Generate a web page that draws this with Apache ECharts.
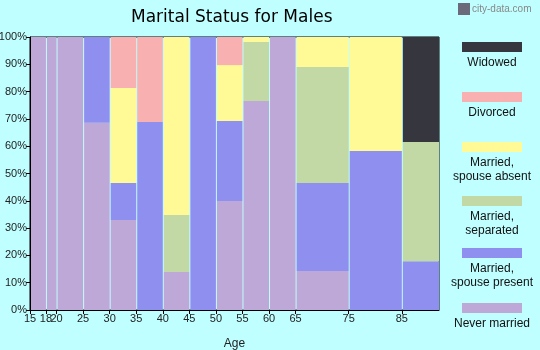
<!DOCTYPE html>
<html><head><meta charset="utf-8">
<script src="https://cdn.jsdelivr.net/npm/echarts@6/dist/echarts.min.js"></script>
<style>html,body{margin:0;padding:0;background:#c0ffff}#c{width:540px;height:350px}</style>
</head><body><div id="c"></div>
<script>
const binEdges = [15, 18, 20, 25, 30, 35, 40, 45, 50, 55, 60, 65, 75, 85, 92];
const tickLabels = [15, 18, 20, 25, 30, 35, 40, 45, 50, 55, 60, 65, 75, 85];
const neverMarried   = [100, 100, 100, 68.6, 33.0, 0, 13.9, 0, 39.9, 76.6, 100, 14.3, 0, 0];
const spousePresent  = [0, 0, 0, 31.4, 13.5, 68.9, 0, 100, 29.3, 0, 0, 32.2, 58.2, 17.9];
const separated      = [0, 0, 0, 0, 0, 0, 20.9, 0, 0, 21.6, 0, 42.5, 0, 43.6];
const spouseAbsent   = [0, 0, 0, 0, 34.8, 0, 65.2, 0, 20.5, 1.8, 0, 11.0, 41.8, 0];
const divorced       = [0, 0, 0, 0, 18.7, 31.1, 0, 0, 10.3, 0, 0, 0, 0, 0];
const widowed        = [0, 0, 0, 0, 0, 0, 0, 0, 0, 0, 0, 0, 0, 38.5];

const seriesDefs = [
  {name: 'Never married', values: neverMarried, color: '#bea8d8', label: ['Never married']},
  {name: 'Married, spouse present', values: spousePresent, color: '#8f8ff0', label: ['Married,', 'spouse present']},
  {name: 'Married, separated', values: separated, color: '#c2d9a5', label: ['Married,', 'separated']},
  {name: 'Married, spouse absent', values: spouseAbsent, color: '#fffa96', label: ['Married,', 'spouse absent']},
  {name: 'Divorced', values: divorced, color: '#f8b0b0', label: ['Divorced']},
  {name: 'Widowed', values: widowed, color: '#35363e', label: ['Widowed']}
];

const cum = binEdges.slice(0, -1).map(() => 0);
const series = seriesDefs.map(s => {
  const data = [];
  s.values.forEach((v, i) => {
    if (v > 0) data.push([binEdges[i], binEdges[i + 1], cum[i], cum[i] + v]);
    cum[i] += v;
  });
  return {
    type: 'custom', name: s.name, itemStyle: {color: s.color},
    encode: {x: [0, 1], y: [2, 3]},
    data: data,
    renderItem: function (params, api) {
      const p0 = api.coord([api.value(0), api.value(2)]);
      const p1 = api.coord([api.value(1), api.value(3)]);
      return {type: 'rect', shape: {x: p0[0] + 1, y: p1[1], width: p1[0] - p0[0] - 1, height: p0[1] - p1[1]},
        style: {fill: api.visual('color')}};
    }
  };
});

// legend (drawn as graphics), top to bottom: reverse order
const legendY = [42, 92, 142, 196, 248, 303];
const graphics = [];
seriesDefs.slice().reverse().forEach((s, k) => {
  const y = legendY[k];
  graphics.push({type: 'rect', left: 462, top: y, shape: {width: 60, height: 10}, style: {fill: s.color}});
  s.label.forEach((t, j) => {
    graphics.push({type: 'text', x: 492, y: y + 15 + j * 14,
      style: {text: t, fill: '#111', font: '12px "Liberation Sans", Arial, sans-serif', textAlign: 'center', textVerticalAlign: 'top'}});
  });
});
graphics.push({type: 'rect', left: 458, top: 3, shape: {width: 12, height: 12}, style: {fill: '#6a6a7a'}});
graphics.push({type: 'text', x: 472, y: 9, style: {text: 'city-data.com', fill: '#888', font: '10px "Liberation Sans", Arial, sans-serif', textVerticalAlign: 'middle'}});

const chart = echarts.init(document.getElementById('c'));
chart.setOption({
  backgroundColor: '#c0ffff',
  animation: false,
  title: {text: 'Marital Status for Males', left: 126, top: 4,
    textStyle: {fontFamily: 'DejaVu Sans', fontSize: 17, fontWeight: 'normal', color: '#000'}},
  grid: {left: 30, top: 37, right: 101, bottom: 40, show: true, borderColor: '#000', borderWidth: 1,
    backgroundColor: 'transparent', containLabel: false, outerBoundsMode: 'none'},
  xAxis: {type: 'value', min: 15, max: 92, name: 'Age', nameLocation: 'middle', nameGap: 28,
    nameTextStyle: {fontFamily: 'Liberation Sans', fontSize: 12, color: '#222'},
    splitLine: {show: false},
    axisLine: {lineStyle: {color: '#000'}},
    axisTick: {customValues: tickLabels, length: 4, lineStyle: {color: '#000'}},
    axisLabel: {customValues: tickLabels, fontFamily: 'Liberation Sans', fontSize: 11, color: '#222', margin: 3}},
  yAxis: {type: 'value', min: 0, max: 100, interval: 10,
    splitLine: {show: false},
    axisLine: {show: true, lineStyle: {color: '#000'}},
    axisTick: {show: true, length: 4, lineStyle: {color: '#000'}},
    axisLabel: {formatter: '{value}%', fontFamily: 'Liberation Sans', fontSize: 11, color: '#222', margin: 3}},
  series: series,
  graphic: graphics
});
</script></body></html>
